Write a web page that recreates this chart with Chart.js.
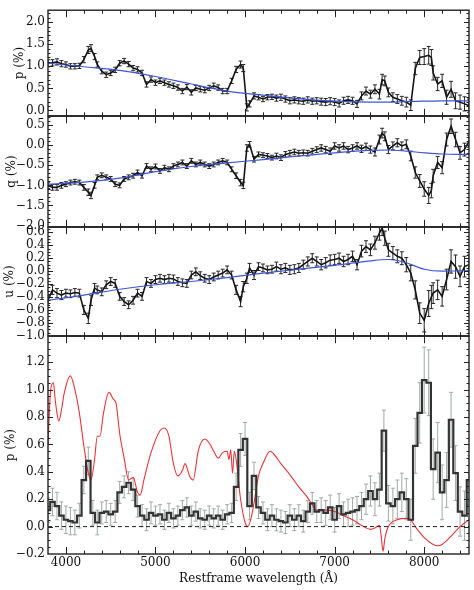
<!DOCTYPE html>
<html>
<head>
<meta charset="utf-8">
<script src="https://cdn.jsdelivr.net/npm/chart.js@4.4.0/dist/chart.umd.min.js"></script>
<style>
html, body { margin: 0; padding: 0; background: #fff; overflow: hidden; }
#wrap { position: relative; width: 474px; height: 590px; overflow: hidden; }
canvas { position: absolute; left: 0; }
</style>
</head>
<body>
<div id="wrap">
  <canvas id="c-p" width="474" height="126" style="top:0px"></canvas>
  <canvas id="c-q" width="474" height="131" style="top:106px"></canvas>
  <canvas id="c-u" width="474" height="129" style="top:217px"></canvas>
  <canvas id="c-pb" width="474" height="264" style="top:326px"></canvas>
</div>
<script>
// rest-frame wavelength of the polarimetry bins (A)
var wl = [
  3800, 3850, 3900, 3950, 4000, 4050, 4100, 4150, 4200, 4250,
  4280, 4320, 4350, 4400, 4450, 4500, 4550, 4600, 4650, 4700,
  4750, 4800, 4850, 4900, 4950, 5000, 5050, 5100, 5150, 5200,
  5250, 5300, 5350, 5400, 5450, 5500, 5550, 5600, 5650, 5700,
  5750, 5800, 5850, 5900, 5950, 5980, 6020, 6050, 6100, 6150,
  6200, 6250, 6300, 6350, 6400, 6450, 6500, 6550, 6600, 6650,
  6700, 6750, 6800, 6850, 6900, 6950, 7000, 7050, 7100, 7150,
  7200, 7250, 7300, 7350, 7400, 7450, 7500, 7530, 7560, 7600,
  7650, 7700, 7750, 7800, 7850, 7900, 7950, 8000, 8050, 8080,
  8100, 8150, 8200, 8250, 8300, 8350, 8400, 8450, 8500
];
var pVals = [
  1.07, 1.08, 1.10, 1.06, 1.04, 1.00, 1.00, 1.01, 1.15, 1.37,
  1.41, 1.22, 1.04, 0.89, 0.81, 0.85, 0.92, 1.07, 1.12, 1.05,
  0.96, 0.93, 0.85, 0.59, 0.70, 0.63, 0.67, 0.63, 0.59, 0.56,
  0.52, 0.44, 0.53, 0.41, 0.51, 0.48, 0.46, 0.51, 0.56, 0.52,
  0.44, 0.44, 0.67, 0.93, 1.04, 0.96, 0.07, 0.15, 0.33, 0.30,
  0.26, 0.30, 0.31, 0.28, 0.30, 0.26, 0.22, 0.24, 0.22, 0.21,
  0.24, 0.21, 0.22, 0.20, 0.19, 0.21, 0.19, 0.16, 0.22, 0.24,
  0.22, 0.15, 0.33, 0.44, 0.37, 0.48, 0.37, 0.70, 0.67, 0.41,
  0.30, 0.26, 0.22, 0.19, 0.12, 0.95, 1.20, 1.22, 1.25, 1.20,
  0.85, 0.60, 0.67, 0.30, 0.48, 0.22, 0.19, 0.15, 0.11
];
var qVals = [
  -1.00, -1.05, -1.05, -1.00, -0.97, -0.93, -0.91, -0.93, -1.05, -1.17,
  -1.25, -1.00, -0.80, -0.75, -0.80, -0.84, -0.97, -1.00, -0.84, -0.80,
  -0.76, -0.68, -0.76, -0.52, -0.60, -0.53, -0.64, -0.56, -0.60, -0.52,
  -0.48, -0.43, -0.52, -0.39, -0.48, -0.43, -0.48, -0.52, -0.48, -0.43,
  -0.39, -0.43, -0.60, -0.76, -0.93, -1.00, -0.07, 0.02, -0.35, -0.23,
  -0.25, -0.27, -0.31, -0.27, -0.31, -0.23, -0.20, -0.17, -0.20, -0.19,
  -0.20, -0.15, -0.11, -0.07, -0.11, -0.15, -0.02, -0.07, -0.02, -0.11,
  -0.07, -0.02, -0.09, -0.04, -0.11, -0.17, 0.14, 0.30, 0.22, -0.11,
  -0.02, 0.06, -0.02, 0.02, -0.27, -0.68, -0.89, -1.09, -1.25, -1.13,
  -0.76, -0.43, -0.56, 0.14, 0.47, 0.14, -0.19, -0.11, 0.10
];
var uVals = [
  -0.45, -0.29, -0.34, -0.37, -0.34, -0.35, -0.33, -0.34, -0.60, -0.73,
  -0.45, -0.26, -0.29, -0.32, -0.21, -0.16, -0.19, -0.39, -0.47, -0.52,
  -0.45, -0.34, -0.39, -0.16, -0.19, -0.13, -0.11, -0.13, -0.11, -0.12,
  -0.16, -0.18, -0.19, -0.06, -0.01, -0.07, -0.11, -0.13, -0.09, -0.06,
  -0.03, 0.02, -0.06, -0.29, -0.47, -0.24, -0.11, 0.05, -0.06, 0.07,
  0.05, 0.02, 0.03, 0.07, 0.03, 0.05, 0.02, 0.03, 0.05, 0.10,
  0.15, 0.20, 0.15, 0.10, 0.13, 0.17, 0.18, 0.20, 0.15, 0.18,
  0.23, 0.10, 0.31, 0.38, 0.33, 0.44, 0.59, 0.67, 0.51, 0.33,
  0.28, 0.23, 0.20, 0.10, -0.03, -0.29, -0.65, -0.76, -0.50, -0.40,
  -0.34, -0.29, -0.39, -0.13, 0.15, 0.07, -0.08, 0.07, 0.10
];
// 1-sigma uncertainty per bin (%), same for p, q and u
var sigma = [
  0.08, 0.07, 0.07, 0.07, 0.06, 0.06, 0.06, 0.06, 0.07, 0.08,
  0.08, 0.07, 0.06, 0.06, 0.06, 0.06, 0.06, 0.06, 0.06, 0.06,
  0.06, 0.06, 0.06, 0.06, 0.06, 0.06, 0.06, 0.06, 0.06, 0.06,
  0.06, 0.06, 0.06, 0.06, 0.06, 0.06, 0.06, 0.06, 0.06, 0.06,
  0.06, 0.06, 0.06, 0.07, 0.08, 0.08, 0.08, 0.07, 0.07, 0.06,
  0.06, 0.06, 0.06, 0.07, 0.07, 0.07, 0.07, 0.07, 0.07, 0.07,
  0.07, 0.07, 0.07, 0.08, 0.08, 0.08, 0.08, 0.08, 0.08, 0.08,
  0.08, 0.08, 0.09, 0.09, 0.09, 0.10, 0.11, 0.12, 0.11, 0.10,
  0.10, 0.10, 0.10, 0.11, 0.12, 0.14, 0.16, 0.18, 0.20, 0.18,
  0.16, 0.15, 0.15, 0.16, 0.18, 0.18, 0.16, 0.16, 0.15
];

// smooth ISP fit (blue)
var fitWl = [3800, 4200, 4600, 5000, 5400, 5800, 6200, 6600, 7000, 7400, 7600, 7800, 8000, 8200, 8500];
var pFit = [1.07, 0.99, 0.91, 0.77, 0.60, 0.44, 0.35, 0.27, 0.21, 0.19, 0.19, 0.20, 0.21, 0.22, 0.22];
var qFit = [-0.97, -0.92, -0.82, -0.66, -0.53, -0.44, -0.36, -0.27, -0.19, -0.13, -0.12, -0.15, -0.19, -0.22, -0.23];
var uFit = [-0.45, -0.37, -0.28, -0.21, -0.16, -0.10, -0.03, 0.03, 0.09, 0.16, 0.18, 0.13, 0.03, 0.00, 0.01];

// ISP-subtracted p, 50 A bins (bottom panel)
var binWl = [
  3800, 3850, 3900, 3950, 4000, 4050, 4100, 4150, 4200, 4250,
  4300, 4350, 4400, 4450, 4500, 4550, 4600, 4650, 4700, 4750,
  4800, 4850, 4900, 4950, 5000, 5050, 5100, 5150, 5200, 5250,
  5300, 5350, 5400, 5450, 5500, 5550, 5600, 5650, 5700, 5750,
  5800, 5850, 5900, 5950, 6000, 6050, 6100, 6150, 6200, 6250,
  6300, 6350, 6400, 6450, 6500, 6550, 6600, 6650, 6700, 6750,
  6800, 6850, 6900, 6950, 7000, 7050, 7100, 7150, 7200, 7250,
  7300, 7350, 7400, 7450, 7500, 7550, 7600, 7650, 7700, 7750,
  7800, 7850, 7900, 7950, 8000, 8050, 8100, 8150, 8200, 8250,
  8300, 8350, 8400, 8450, 8500
];
var pBin = [
  0.12, 0.18, 0.15, 0.08, 0.05, 0.04, 0.03, 0.08, 0.34, 0.48,
  0.10, 0.03, 0.10, 0.11, 0.09, 0.11, 0.25, 0.29, 0.32, 0.27,
  0.15, 0.08, 0.05, 0.10, 0.08, 0.09, 0.05, 0.10, 0.06, 0.08,
  0.12, 0.14, 0.08, 0.11, 0.06, 0.05, 0.08, 0.06, 0.08, 0.05,
  0.09, 0.10, 0.29, 0.56, 0.64, 0.15, 0.37, 0.14, 0.10, 0.05,
  0.08, 0.05, 0.04, 0.03, 0.08, 0.05, 0.08, 0.04, 0.11, 0.17,
  0.11, 0.12, 0.10, 0.14, 0.05, 0.15, 0.09, 0.10, 0.11, 0.12,
  0.15, 0.20, 0.26, 0.20, 0.27, 0.70, 0.17, 0.15, 0.20, 0.25,
  0.20, 0.05, 0.59, 0.83, 1.07, 1.05, 0.42, 0.54, 0.25, 0.34,
  0.78, 0.39, 0.11, 0.08, 0.34
];
var pBinErr = [
  0.09, 0.10, 0.10, 0.10, 0.10, 0.10, 0.09, 0.09, 0.10, 0.10,
  0.09, 0.09, 0.08, 0.08, 0.08, 0.08, 0.08, 0.08, 0.08, 0.08,
  0.08, 0.08, 0.08, 0.08, 0.07, 0.07, 0.07, 0.07, 0.07, 0.07,
  0.07, 0.07, 0.07, 0.07, 0.07, 0.07, 0.07, 0.07, 0.07, 0.07,
  0.07, 0.07, 0.10, 0.12, 0.12, 0.10, 0.10, 0.08, 0.08, 0.08,
  0.08, 0.08, 0.08, 0.08, 0.08, 0.08, 0.08, 0.08, 0.08, 0.08,
  0.08, 0.09, 0.09, 0.09, 0.09, 0.09, 0.09, 0.10, 0.10, 0.10,
  0.10, 0.11, 0.11, 0.12, 0.12, 0.15, 0.13, 0.13, 0.14, 0.14,
  0.15, 0.15, 0.20, 0.22, 0.24, 0.24, 0.22, 0.22, 0.20, 0.20,
  0.20, 0.20, 0.18, 0.18, 0.18
];

// scaled flux spectrum (red)
var fluxWl = [
  3800, 3830, 3860, 3880, 3900, 3920, 3950, 3980, 4050, 4100,
  4150, 4200, 4250, 4280, 4320, 4350, 4380, 4420, 4480, 4530,
  4560, 4600, 4650, 4700, 4750, 4800, 4830, 4870, 4950, 5050,
  5100, 5150, 5200, 5250, 5300, 5330, 5380, 5420, 5480, 5550,
  5600, 5650, 5700, 5750, 5800, 5820, 5840, 5860, 5880, 5900,
  5950, 6000, 6030, 6080, 6150, 6200, 6280, 6320, 6400, 6500,
  6600, 6700, 6750, 6800, 6850, 6900, 7000, 7100, 7200, 7300,
  7400, 7450, 7500, 7520, 7540, 7560, 7600, 7700, 7800, 7850,
  7900, 8000, 8100, 8150, 8200, 8300, 8400, 8500
];
var flux = [
  0.60, 1.00, 1.05, 0.93, 0.83, 0.77, 0.85, 0.97, 1.10, 1.00,
  0.83, 0.59, 0.39, 0.34, 0.49, 0.66, 0.66, 0.83, 0.98, 0.93,
  0.90, 0.68, 0.50, 0.34, 0.36, 0.25, 0.23, 0.34, 0.54, 0.70,
  0.72, 0.66, 0.46, 0.37, 0.41, 0.46, 0.37, 0.34, 0.56, 0.64,
  0.61, 0.55, 0.50, 0.54, 0.55, 0.49, 0.56, 0.39, 0.55, 0.49,
  0.20, 0.03, 0.00, 0.10, 0.37, 0.46, 0.55, 0.53, 0.46, 0.38,
  0.29, 0.21, 0.16, 0.12, 0.12, 0.12, 0.11, 0.08, 0.05, 0.01,
  -0.02, -0.01, 0.01, -0.07, -0.18, -0.09, 0.00, 0.05, 0.06, 0.05,
  0.00, -0.08, -0.13, -0.14, -0.13, -0.07, 0.00, 0.05
];

var xTicksMajor = [4000, 5000, 6000, 7000, 8000];

Chart.defaults.font.family = "'DejaVu Serif', serif";
Chart.defaults.font.size = 12;
Chart.defaults.color = '#111';

function pts(xs, ys) {
    return xs.map(function (w, i) { return { x: w, y: ys[i] }; });
}
function errorBars(xs, ys, errs) {
    var out = [];
    xs.forEach(function (w, i) {
        out.push({ x: w, y: ys[i] - errs[i] });
        out.push({ x: w, y: ys[i] + errs[i] });
        out.push({ x: w, y: null });
    });
    return out;
}
function fmt(v) {
    var s = Math.abs(v).toFixed(1);
    return (v < -1e-9 ? '\u2212' : '') + s;
}

// inward ticks on all four sides + frame
var frameTicks = {
    id: 'frameTicks',
    afterDraw: function (chart, args, opts) {
        var ctx = chart.ctx, a = chart.chartArea;
        var xs = chart.scales.x, ys = chart.scales.y;
        ctx.save();
        ctx.strokeStyle = '#222';
        ctx.lineWidth = 1;
        ctx.beginPath();
        for (var w = 3800; w <= 8500; w += 200) {
            var px = Math.round(xs.getPixelForValue(w)) + 0.5;
            if (px <= a.left + 1 || px >= a.right - 1) continue;
            var len = xTicksMajor.indexOf(w) >= 0 ? 7 : 3.5;
            ctx.moveTo(px, a.top); ctx.lineTo(px, a.top + len);
            ctx.moveTo(px, a.bottom); ctx.lineTo(px, a.bottom - len);
        }
        var k0 = Math.ceil(ys.min / opts.minor - 1e-6), k1 = Math.floor(ys.max / opts.minor + 1e-6);
        var ratio = Math.round(opts.major / opts.minor);
        for (var k = k0; k <= k1; k++) {
            var py = Math.round(ys.getPixelForValue(k * opts.minor)) + 0.5;
            if (py <= a.top + 1 || py >= a.bottom - 1) continue;
            var l = (k % ratio === 0) ? 5 : 2.5;
            ctx.moveTo(a.left, py); ctx.lineTo(a.left + l, py);
            ctx.moveTo(a.right, py); ctx.lineTo(a.right - l, py);
        }
        ctx.stroke();
        ctx.lineWidth = 1.4;
        ctx.strokeRect(a.left, a.top, a.right - a.left, a.bottom - a.top);
        ctx.restore();
    }
};

function yScale(min, max, step, title, titlePad) {
    return {
        type: 'linear',
        min: min,
        max: max,
        afterFit: function (s) { s.width = 48; },
        grid: { display: false, drawTicks: false },
        border: { display: false },
        ticks: { stepSize: step, includeBounds: false, autoSkip: false, padding: 3, callback: fmt },
        title: { display: true, text: title, font: { size: 12 }, padding: { top: titlePad, bottom: 0 } }
    };
}

function stokesPanel(id, vals, fit, yMin, yMax, step, major, minor, title, titlePad, padTop) {
    return new Chart(document.getElementById(id), {
        type: 'line',
        data: {
            datasets: [
                {
                    data: pts(fitWl, fit),
                    borderColor: '#3f55d6',
                    borderWidth: 1.2,
                    pointRadius: 0,
                    cubicInterpolationMode: 'monotone',
                    order: 0
                },
                {
                    data: pts(wl, vals),
                    borderColor: '#151515',
                    borderWidth: 1.6,
                    pointRadius: 0,
                    order: 1
                },
                {
                    data: errorBars(wl, vals, sigma),
                    borderColor: '#262626',
                    borderWidth: 1,
                    pointStyle: 'line',
                    pointRadius: 2,
                    pointBorderColor: '#262626',
                    pointBorderWidth: 1,
                    spanGaps: false,
                    order: 2
                }
            ]
        },
        options: {
            responsive: false,
            animation: false,
            events: [],
            layout: { padding: { top: padTop, bottom: 10, left: 0, right: 2 } },
            plugins: {
                legend: { display: false },
                tooltip: { enabled: false },
                frameTicks: { major: major, minor: minor }
            },
            scales: {
                x: { type: 'linear', min: 3800, max: 8500, display: false },
                y: yScale(yMin, yMax, step, title, titlePad)
            }
        },
        plugins: [frameTicks]
    });
}

stokesPanel('c-p', pVals, pFit, -0.12, 2.27, 0.5, 0.5, 0.1, 'p (%)', 13, 8);
stokesPanel('c-q', qVals, qFit, -2.03, 0.72, 0.5, 0.5, 0.1, 'q (%)', 5, 10);
stokesPanel('c-u', uVals, uFit, -1.0, 0.68, 0.2, 0.2, 0.05, 'u (%)', 3, 10);

var chartBottom = new Chart(document.getElementById('c-pb'), {
    type: 'line',
    data: {
        datasets: [
            {
                data: [{ x: 3800, y: 0 }, { x: 8500, y: 0 }],
                borderColor: '#222',
                borderWidth: 1,
                borderDash: [4, 3],
                pointRadius: 0,
                order: 0
            },
            {
                data: pts(binWl, pBin),
                borderColor: '#333',
                borderWidth: 2.2,
                stepped: 'middle',
                pointRadius: 0,
                order: 1
            },
            {
                data: pts(fluxWl, flux),
                borderColor: '#e8353a',
                borderWidth: 1.1,
                pointRadius: 0,
                cubicInterpolationMode: 'monotone',
                order: 2
            },
            {
                data: errorBars(binWl, pBin, pBinErr),
                borderColor: '#a3a8a8',
                borderWidth: 1,
                pointStyle: 'line',
                pointRadius: 2,
                pointBorderColor: '#a3a8a8',
                pointBorderWidth: 1,
                spanGaps: false,
                order: 3
            }
        ]
    },
    options: {
        responsive: false,
        animation: false,
        events: [],
        layout: { padding: { top: 10, bottom: 0, left: 0, right: 2 } },
        plugins: {
            legend: { display: false },
            tooltip: { enabled: false },
            frameTicks: { major: 0.2, minor: 0.05 }
        },
        scales: {
            x: {
                type: 'linear',
                min: 3800,
                max: 8500,
                afterFit: function (s) { s.height = 36; },
                afterBuildTicks: function (s) {
                    s.ticks = xTicksMajor.map(function (v) { return { value: v }; });
                },
                grid: { display: false, drawTicks: false },
                border: { display: false },
                ticks: { autoSkip: false, padding: 2, callback: function (v) { return String(v); } },
                title: { display: true, text: 'Restframe wavelength (\u00c5)', font: { size: 12 }, padding: { top: 0, bottom: 4 } }
            },
            y: yScale(-0.2, 1.39, 0.2, 'p (%)', 4)
        }
    },
    plugins: [frameTicks]
});
</script>
</body>
</html>
